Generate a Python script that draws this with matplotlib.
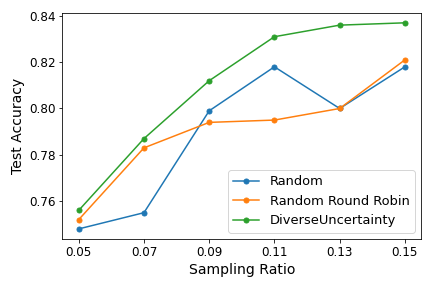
import matplotlib
matplotlib.use('Agg')
import matplotlib.pyplot as plt

ratios = ['0.05', '0.07', '0.09', '0.11', '0.13', '0.15']
random_acc = [0.748, 0.755, 0.799, 0.818, 0.800, 0.818]
rrr_acc = [0.752, 0.783, 0.794, 0.795, 0.800, 0.821]
du_acc = [0.756, 0.787, 0.812, 0.831, 0.836, 0.837]

fig, ax = plt.subplots(figsize=(6, 4), dpi=72)
x = [float(r) for r in ratios]
ax.plot(x, random_acc, marker='o', markersize=5, label='Random')
ax.plot(x, rrr_acc, marker='o', markersize=5, label='Random Round Robin')
ax.plot(x, du_acc, marker='o', markersize=5, label='DiverseUncertainty')

ax.set_xticks(x)
ax.set_xticklabels(ratios)
ax.set_yticks([0.76, 0.78, 0.80, 0.82, 0.84])
ax.tick_params(labelsize=12)
ax.set_xlabel('Sampling Ratio', fontsize=14)
ax.set_ylabel('Test Accuracy', fontsize=14)
ax.legend(fontsize=13, loc='lower right')
fig.tight_layout()
fig.savefig('out.png')
